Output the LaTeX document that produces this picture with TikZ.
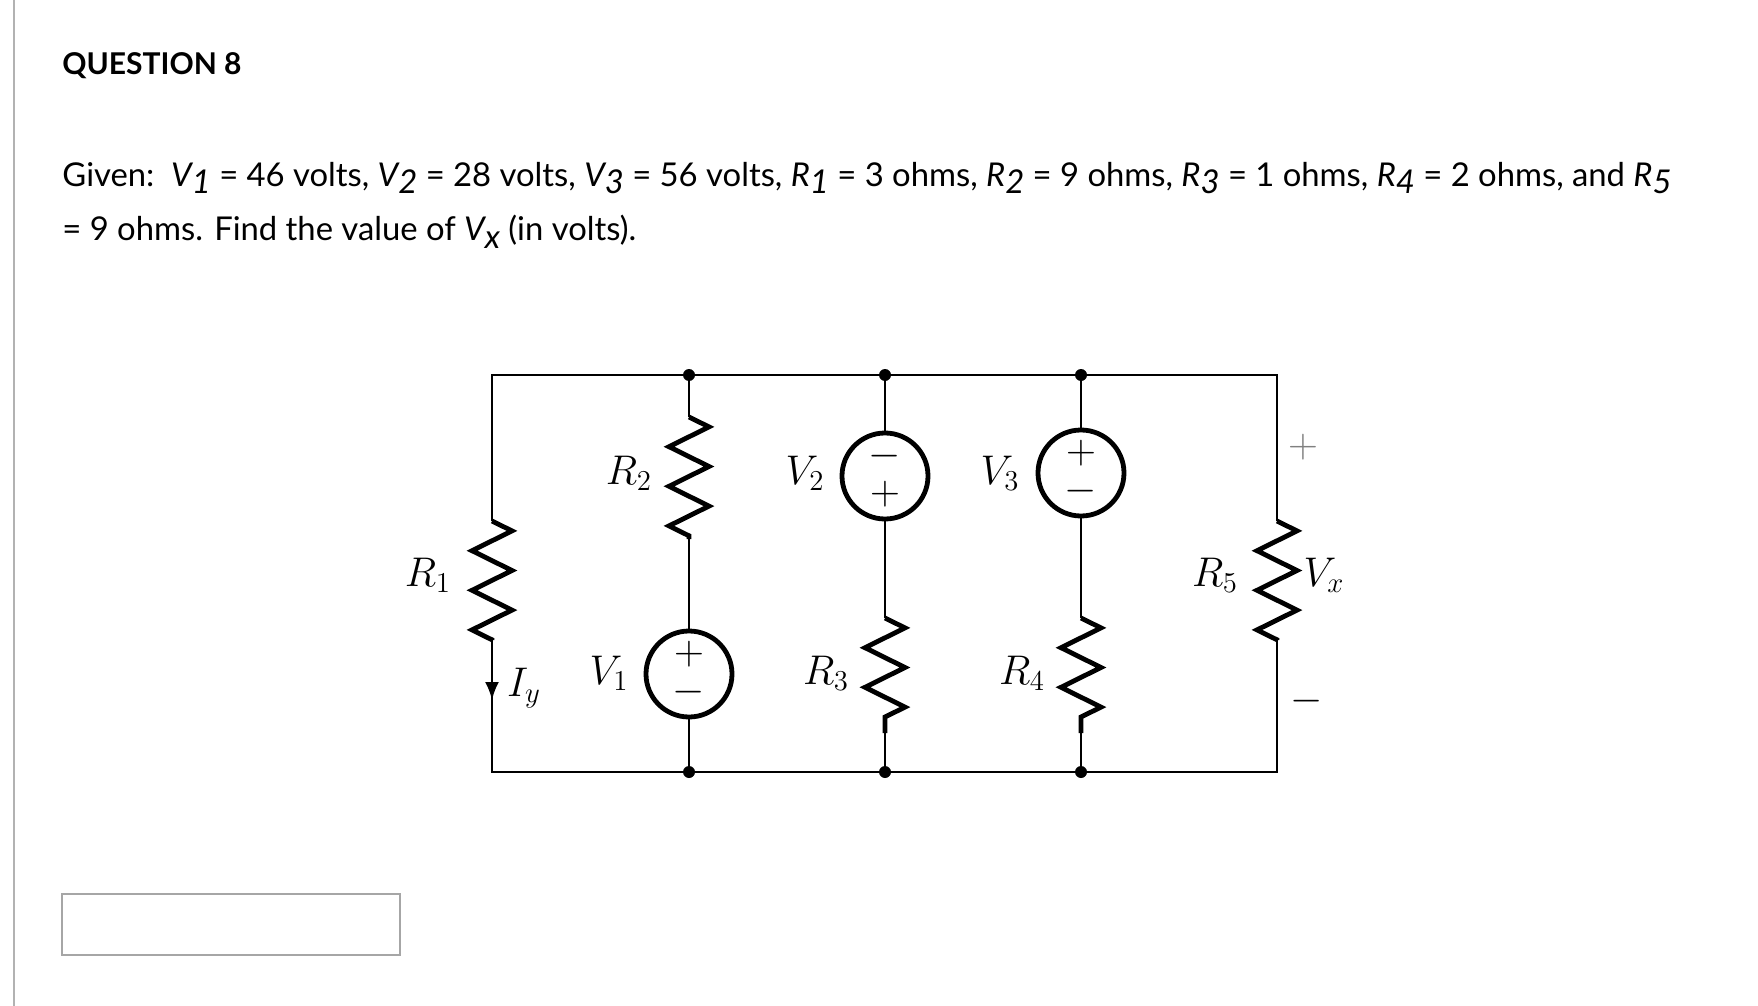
\documentclass[tikz,border=0pt]{standalone}
\usepackage{fontspec}
\setmainfont{Lato}
\usetikzlibrary{decorations.pathmorphing,arrows.meta}
\newcommand{\sv}[2]{\textit{#1\raisebox{-0.45ex}{#2}}}
\tikzset{
  wire/.style={line width=1.2pt},
  res/.style={line width=2.4pt, line join=miter, decorate,
    decoration={zigzag, segment length=19.8pt, amplitude=10pt}},
  src/.style={circle, draw, line width=2.4pt, minimum size=43pt, inner sep=0pt},
  dot/.style={circle, fill, inner sep=0pt, minimum size=6pt},
  lbl/.style={font=\fontsize{20}{24}\selectfont},
  sgn/.style={font=\fontsize{20}{24}\selectfont, inner sep=0pt}
}
\begin{document}
\begin{tikzpicture}[x=0.5pt, y=-0.5pt]
    \useasboundingbox (0,0) rectangle (1758,1006);
    \draw[gray!60, line width=1pt] (14,0) -- (14,1010);
    % text
    \node[anchor=base west, inner sep=0pt, font=\fontsize{15}{17}\selectfont\bfseries] (title) at (62,75) {QUESTION 8};
    \node[anchor=base west, inner sep=0pt, font=\fontsize{16.4}{19}\selectfont] (given) at (62,186)
      {Given:\ \ \sv{V}{1} = 46 volts, \sv{V}{2} = 28 volts, \sv{V}{3} = 56 volts, \sv{R}{1} = 3 ohms, \sv{R}{2} = 9 ohms, \sv{R}{3} = 1 ohms, \sv{R}{4} = 2 ohms, and \sv{R}{5}};
    \node[anchor=base west, inner sep=0pt, font=\fontsize{16.4}{19}\selectfont] (find) at (62,241)
      {= 9 ohms. Find the value of \sv{V}{x} (in volts).};
    \draw[gray!70, line width=0.8pt] (62,894) rectangle (400,955);

    % corners and junctions
    \coordinate (tl) at (492,375); \coordinate (tr) at (1277,375);
    \coordinate (bl) at (492,772); \coordinate (br) at (1277,772);
    \node[dot] (t2) at (689,375) {};  \node[dot] (b2) at (689,772) {};
    \node[dot] (t3) at (885,375) {};  \node[dot] (b3) at (885,772) {};
    \node[dot] (t4) at (1081,375) {}; \node[dot] (b4) at (1081,772) {};
    \draw[wire] (bl) -- (tl) -- (tr) -- (br) -- cycle;

    % R1 branch
    \coordinate (r1a) at (492,521); \coordinate (r1b) at (492,640);
    \fill[white] (482,521) rectangle (502,640);
    \draw[res] (r1a) -- (r1b);
    \node[lbl] (R1) at (428,575) {$R_1$};
    \draw[-{Latex[length=9pt,width=7pt]}, wire] (492,680) -- (492,700);
    \node[lbl] (Iy) at (524,688) {$I_y$};

    % R2 / V1 branch
    \coordinate (r2a) at (689,417); \coordinate (r2b) at (689,539);
    \node[src] (V1) at (689,674) {};
    \draw[wire] (t2) -- (r2a); \draw[res] (r2a) -- (r2b);
    \draw[wire] (r2b) -- (V1.north); \draw[wire] (V1.south) -- (b2);
    \node[sgn] at ([yshift=10pt]V1.center) {$+$};
    \node[sgn] at ([yshift=-9pt]V1.center) {$-$};
    \node[lbl] (R2) at (629,473) {$R_2$};
    \node[lbl] (V1l) at (609,673) {$V_1$};

    % V2 / R3 branch
    \node[src] (V2) at (885,476) {};
    \coordinate (r3a) at (885,618); \coordinate (r3b) at (885,733);
    \draw[wire] (t3) -- (V2.north); \draw[wire] (V2.south) -- (r3a);
    \draw[res] (r3a) -- (r3b); \draw[wire] (r3b) -- (b3);
    \node[sgn] at ([yshift=10pt]V2.center) {$-$};
    \node[sgn] at ([yshift=-9pt]V2.center) {$+$};
    \node[lbl] (V2l) at (805,473) {$V_2$};
    \node[lbl] (R3) at (826,673) {$R_3$};

    % V3 / R4 branch
    \node[src] (V3) at (1081,473) {};
    \coordinate (r4a) at (1081,618); \coordinate (r4b) at (1081,733);
    \draw[wire] (t4) -- (V3.north); \draw[wire] (V3.south) -- (r4a);
    \draw[res] (r4a) -- (r4b); \draw[wire] (r4b) -- (b4);
    \node[sgn] at ([yshift=10pt]V3.center) {$+$};
    \node[sgn] at ([yshift=-9pt]V3.center) {$-$};
    \node[lbl] (V3l) at (1000,473) {$V_3$};
    \node[lbl] (R4) at (1022,673) {$R_4$};

    % R5 branch
    \coordinate (r5a) at (1277,521); \coordinate (r5b) at (1277,640);
    \fill[white] (1267,521) rectangle (1287,640);
    \draw[res] (r5a) -- (r5b);
    \node[lbl] (R5) at (1215,575) {$R_5$};
    \node[lbl] (Vx) at (1324,575) {$V_x$};
    \node[sgn, gray] (plus) at (1303,447) {$+$};
    \node[sgn] (minus) at (1307,701) {$-$};
\end{tikzpicture}
\end{document}
